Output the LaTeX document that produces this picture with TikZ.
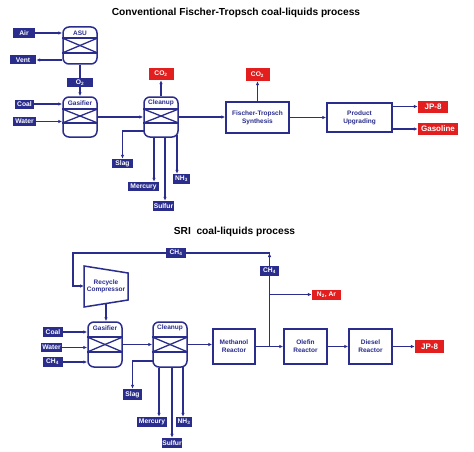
\documentclass[tikz,border=0pt]{standalone}
\usepackage{fontspec}
\setmainfont{Liberation Sans}
\usetikzlibrary{arrows.meta}
\pgfdeclarelayer{back}
\pgfdeclarelayer{bg}
\pgfsetlayers{back,bg,main}
\definecolor{navy}{RGB}{42,45,140}
\definecolor{fred}{RGB}{226,30,30}
\newcommand{\myvessel}[7]{%
  \node[vessel,minimum height={(#4-#3)*1pt}] (#1) at (#2,{(#3+#4)/2}) {};
  \draw[vl] (#1.west |- 0,#5) -- (#1.east |- 0,#5);
  \draw[vl] (#1.west |- 0,#6) -- (#1.east |- 0,#6);
  \draw[vl] (#1.west |- 0,#5) -- (#1.east |- 0,#6);
  \draw[vl] (#1.west |- 0,#6) -- (#1.east |- 0,#5);
  \node[vlabel] (#1-l) at (#2,{#3+6}) {#7};
}
\begin{document}
\begin{tikzpicture}[x=1pt,y=-1pt,
  tag/.style={fill=navy,text=white,font=\bfseries\fontsize{6.7}{7}\selectfont,inner sep=0pt},
  rtag/.style={fill=fred,text=white,font=\bfseries\fontsize{6.7}{7}\selectfont,inner sep=0pt},
  vessel/.style={draw=navy,line width=1.5pt,rounded corners=6pt,fill=white,minimum width=34pt,inner sep=0pt},
  proc/.style={draw=navy,line width=1.5pt,fill=white,text=navy,font=\bfseries\fontsize{6.5}{7.8}\selectfont,align=center,inner sep=0pt},
  vlabel/.style={text=navy,font=\bfseries\fontsize{6.5}{7.5}\selectfont,inner sep=0pt,align=center},
  vl/.style={draw=navy,line width=1.3pt},
  arr/.style={draw=navy,line width=1.2pt,-{Latex[length=4pt,width=3.5pt]}},
  ln/.style={draw=navy,line width=1.2pt},
  title/.style={font=\bfseries\fontsize{10.2}{12}\selectfont,inner sep=0pt}
]
\begin{pgfonlayer}{back}
\fill[white] (0,0) rectangle (474,452);
\end{pgfonlayer}
\useasboundingbox (0,0) rectangle (474,452);

% ---------------- top diagram ----------------
\node[title] (t1) at (236,13) {Conventional Fischer-Tropsch coal-liquids process};

\node[tag,minimum width=22pt,minimum height=10pt] (air) at (24,33) {Air};
\node[tag,minimum width=26pt,minimum height=9pt] (vent) at (23,60) {Vent};
\myvessel{asu}{80}{27}{64}{38}{53}{ASU}
\node[tag,minimum width=26pt,minimum height=9pt] (o2) at (80,82.5) {O\textsubscript{2}};
\myvessel{gas1}{80}{97}{137}{109}{123}{Gasifier}
\node[tag,minimum width=19pt,minimum height=9pt] (coal1) at (24.5,104) {Coal};
\node[tag,minimum width=23pt,minimum height=9pt] (water1) at (24.5,121.5) {Water};
\myvessel{clean1}{161}{97}{137}{109}{123}{Cleanup}
\node[rtag,minimum width=25pt,minimum height=12pt] (co2a) at (161,74) {CO\textsubscript{2}};
\node[proc,minimum width=63pt,minimum height=31pt] (ft) at (257.5,117.5) {Fischer-Tropsch\\Synthesis};
\node[rtag,minimum width=24pt,minimum height=13pt] (co2b) at (257.5,74.5) {CO\textsubscript{2}};
\node[proc,minimum width=65pt,minimum height=29pt] (pu) at (359.5,117.5) {Product\\Upgrading};
\node[rtag,minimum width=30pt,minimum height=12pt,font=\bfseries\fontsize{8}{9}\selectfont] (jp8a) at (433,106.5) {JP-8};
\node[rtag,minimum width=40pt,minimum height=12pt,font=\bfseries\fontsize{8}{9}\selectfont] (gasol) at (438,129) {Gasoline};
\node[tag,minimum width=21pt,minimum height=9pt] (slag1) at (122.5,163.5) {Slag};
\node[tag,minimum width=31pt,minimum height=9pt] (merc1) at (143.5,186.5) {Mercury};
\node[tag,minimum width=21pt,minimum height=10pt] (sulf1) at (163.5,206) {Sulfur};
\node[tag,minimum width=17pt,minimum height=10pt] (nh3a) at (181.5,179) {NH\textsubscript{3}};
\coordinate (s1) at (145,131);

% ---------------- bottom diagram ----------------
\node[title] (t2) at (234.5,232) {SRI\ \ coal-liquids process};

\draw[navy,line width=1.5pt,fill=white] (84,266) -- (128,273) -- (128,300) -- (84,307) -- cycle;
\node[vlabel] (comp) at (106,286.5) {Recycle\\Compressor};
\coordinate (compL) at (84,286);
\coordinate (compB) at (106,303.5);

\myvessel{gas2}{105}{322}{367}{337}{352}{Gasifier}
\node[tag,minimum width=20pt,minimum height=9.5pt] (coal2) at (53,332) {Coal};
\node[tag,minimum width=21pt,minimum height=9.5pt] (water2) at (51.5,347.5) {Water};
\node[tag,minimum width=20pt,minimum height=9.5pt] (ch4l) at (52.5,362) {CH\textsubscript{4}};
\myvessel{clean2}{170}{322}{367}{337}{352}{Cleanup}
\node[proc,minimum width=42pt,minimum height=35pt] (meth) at (234,346.5) {Methanol\\Reactor};
\node[proc,minimum width=43pt,minimum height=35pt] (olef) at (305.5,346.5) {Olefin\\Reactor};
\node[proc,minimum width=43pt,minimum height=35pt] (dies) at (370.5,346.5) {Diesel\\Reactor};
\node[rtag,minimum width=29pt,minimum height=13pt,font=\bfseries\fontsize{8}{9}\selectfont] (jp8b) at (429.5,346.5) {JP-8};
\node[tag,minimum width=19pt,minimum height=10pt] (ch4r) at (269.5,271) {CH\textsubscript{4}};
\node[rtag,minimum width=29pt,minimum height=10pt] (n2ar) at (326.5,294.5) {N\textsubscript{2}, Ar};
\node[tag,minimum width=20pt,minimum height=10pt] (ch4t) at (176,253) {CH\textsubscript{4}};
\node[tag,minimum width=19pt,minimum height=11pt] (slag2) at (132.5,394.5) {Slag};
\node[tag,minimum width=30pt,minimum height=10pt] (merc2) at (152,422) {Mercury};
\node[tag,minimum width=20pt,minimum height=10pt] (sulf2) at (172,443) {Sulfur};
\node[tag,minimum width=16pt,minimum height=10pt] (nh3b) at (184,422) {NH\textsubscript{3}};
\coordinate (s2) at (155,361);
\coordinate (jn) at (269.5,346.5);
\coordinate (cA) at (269.5,253);
\coordinate (cB) at (73,253);
\coordinate (cC) at (73,286);

\begin{pgfonlayer}{bg}
% top
\draw[arr] (air.east) -- (air.east -| asu.west);
\draw[arr] (asu.west |- vent.east) -- (vent.east);
\draw[ln] (asu.south) -- (o2.north);
\draw[arr] (o2.south) -- (gas1.north);
\draw[arr] (coal1.east) -- (coal1.east -| gas1.west);
\draw[arr] (water1.east) -- (water1.east -| gas1.west);
\draw[arr] (gas1.east) -- (clean1.west);
\draw[arr] (clean1.north) -- (co2a.south);
\draw[arr] (clean1.east) -- (clean1.east -| ft.west);
\draw[arr] (ft.north) -- (co2b.south);
\draw[arr] (ft.east) -- (pu.west);
\draw[arr] (pu.east |- jp8a.west) -- (jp8a.west);
\draw[arr] (pu.east |- gasol.west) -- (gasol.west);
\draw[arr] (s1) -| (slag1.north);
\draw[arr] ([xshift=-7pt]clean1.south) -- ([xshift=-7pt]clean1.south |- merc1.north);
\draw[arr] ([xshift=4pt]clean1.south) -- ([xshift=4pt]clean1.south |- sulf1.north);
\draw[arr] ([xshift=16pt,yshift=3pt]clean1.south) -- ([xshift=16pt]clean1.south |- nh3a.north);
% bottom
\draw[arr] (jn) -- (cA);
\draw[arr] (cA) -- (cB) -- (cC) -- (compL);
\draw[arr] (compB) -- (compB |- gas2.north);
\draw[arr] (coal2.east) -- (coal2.east -| gas2.west);
\draw[arr] (water2.east) -- (water2.east -| gas2.west);
\draw[arr] (ch4l.east) -- (ch4l.east -| gas2.west);
\draw[arr] (gas2.east) -- (clean2.west);
\draw[arr] (clean2.east) -- (clean2.east -| meth.west);
\draw[arr] (meth.east) -- (olef.west);
\draw[arr] (jn |- n2ar.west) -- (n2ar.west);
\draw[arr] (olef.east) -- (dies.west);
\draw[arr] (dies.east) -- (jp8b.west);
\draw[arr] (s2) -| (slag2.north);
\draw[arr] ([xshift=-11pt]clean2.south) -- ([xshift=-11pt]clean2.south |- merc2.north);
\draw[arr] ([xshift=2pt]clean2.south) -- ([xshift=2pt]clean2.south |- sulf2.north);
\draw[arr] ([xshift=13pt,yshift=2pt]clean2.south) -- ([xshift=13pt]clean2.south |- nh3b.north);
\end{pgfonlayer}
\end{tikzpicture}
\end{document}
